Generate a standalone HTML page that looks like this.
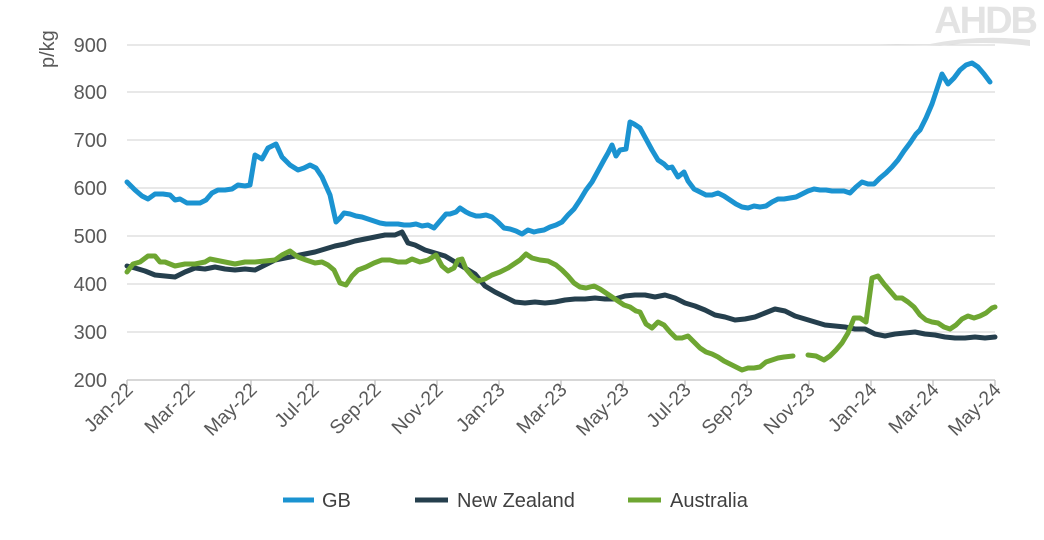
<!DOCTYPE html>
<html><head><meta charset="utf-8"><style>
body{margin:0;background:#fff;}
svg{display:block;font-family:"Liberation Sans",Arial,sans-serif;}
</style></head><body>
<svg width="1044" height="540" viewBox="0 0 1044 540">
<g stroke="#d9d9d9" stroke-width="1.3">
<line x1="127" x2="995" y1="45" y2="45"/><line x1="127" x2="995" y1="92" y2="92"/>
<line x1="127" x2="995" y1="140" y2="140"/><line x1="127" x2="995" y1="188" y2="188"/>
<line x1="127" x2="995" y1="236" y2="236"/><line x1="127" x2="995" y1="284" y2="284"/>
<line x1="127" x2="995" y1="332" y2="332"/>
</g>
<line x1="127" x2="995" y1="380" y2="380" stroke="#bfbfbf" stroke-width="1.3"/>
<g stroke="#bfbfbf" stroke-width="1.3" id="ticks"></g>
<g fill="#595959" font-size="20" text-anchor="end">
<text x="107" y="52">900</text><text x="107" y="99">800</text><text x="107" y="147">700</text>
<text x="107" y="195">600</text><text x="107" y="243">500</text><text x="107" y="291">400</text>
<text x="107" y="339">300</text><text x="107" y="387">200</text>
</g>
<text transform="translate(54,68) rotate(-90)" fill="#595959" font-size="20">p/kg</text>
<g fill="#595959" font-size="19.5" text-anchor="end" id="xl"></g>
<g fill="none" stroke-width="5" stroke-linejoin="round" stroke-linecap="round">
<polyline stroke="#253f4d" points="127,266 135,268 145,271 155,275 165,276 175,277 185,272 195,268 205,269 215,267 225,269 235,270 245,269 255,270 265,265 275,260 285,258 295,256 305,254 315,252 325,249 335,246 345,244 355,241 365,239 375,237 385,235 395,235 402,232 408,243 415,245 425,250 435,253 445,256 455,262 465,268 475,274 485,286 495,292 505,297 515,302 525,303 535,302 545,303 555,302 565,300 575,299 585,299 595,298 605,299 615,299 625,296 635,295 645,295 655,297 665,295 675,298 685,303 695,306 705,310 715,315 725,317 735,320 745,319 755,317 765,313 775,309 785,311 795,316 805,319 815,322 825,325 835,326 845,327 855,329 865,329 875,334 885,336 895,334 905,333 915,332 925,334 935,335 945,337 955,338 965,338 975,337 985,338 995,337"/>
<polyline stroke="#6ea632" points="127,272 133,264 140,262 148,256 155,256 160,262 165,262 175,266 185,264 195,264 205,262 210,259 215,260 225,262 235,264 245,262 255,262 265,261 275,260 282,255 290,251 298,257 306,260 315,263 322,262 328,265 334,270 340,283 346,285 352,276 358,270 366,267 374,263 382,260 390,260 398,262 406,262 412,259 420,262 428,260 436,255 442,266 448,271 454,268 458,260 462,259 466,269 472,276 478,281 485,279 492,275 500,272 508,268 514,264 520,260 526,254 532,258 540,260 548,261 556,265 562,270 568,276 574,283 580,287 586,288 594,286 600,289 606,293 612,297 618,301 624,305 630,307 636,311 640,312 646,324 652,328 658,322 664,325 670,332 676,338 682,338 688,336 694,342 700,348 706,352 712,354 718,357 724,361 730,364 736,367 742,370 748,368 754,368 760,367 766,362 772,360 778,358 784,357 793,356"/>
<polyline stroke="#6ea632" points="808,355 816,356 824,360 830,356 836,350 842,343 848,333 854,318 860,318 866,322 872,278 878,276 884,284 890,291 896,298 902,298 908,302 914,307 920,315 926,320 932,322 938,323 944,327 950,329 956,325 962,319 968,316 974,318 980,316 986,313 992,308 995,307"/>
<polyline stroke="#1b93d1" points="127,182 135,190 142,196 148,199 155,194 163,194 170,195 175,200 180,199 187,203 195,203 200,203 206,200 212,193 218,190 225,190 232,189 238,185 245,186 250,185 255,155 262,159 268,148 276,144 282,157 290,165 298,170 304,168 310,165 316,168 322,177 330,195 336,222 340,218 344,213 350,214 356,216 362,217 368,219 374,221 380,223 386,224 392,224 398,224 404,225 410,225 416,224 422,226 428,225 434,228 440,221 446,214 450,214 456,212 460,208 466,212 470,214 476,216 480,216 486,215 492,217 498,222 504,228 510,229 516,231 522,234 528,230 534,232 538,231 544,230 550,227 556,225 562,222 568,215 574,209 580,200 586,190 592,182 598,171 604,160 608,153 612,145 616,156 620,150 626,149 630,122 634,124 640,128 646,139 652,150 658,160 664,164 668,168 672,167 678,177 684,172 688,181 694,189 700,192 706,195 712,195 718,193 724,196 730,200 736,204 742,207 748,208 754,206 760,207 766,206 772,202 778,199 784,199 790,198 796,197 802,194 808,191 814,189 820,190 826,190 832,191 838,191 844,191 850,193 856,187 862,182 868,184 874,184 880,178 886,173 892,167 898,160 904,151 910,143 916,134 920,130 926,118 932,104 938,86 942,74 948,84 954,78 960,70 966,65 972,63 978,67 984,74 990,82"/>
</g>
<g font-size="20" fill="#404040">
<line x1="283" x2="314" y1="500" y2="500" stroke="#1b93d1" stroke-width="5"/><text x="322" y="507">GB</text>
<line x1="415" x2="448" y1="500" y2="500" stroke="#253f4d" stroke-width="5"/><text x="457" y="507">New Zealand</text>
<line x1="628" x2="661" y1="500" y2="500" stroke="#6ea632" stroke-width="5"/><text x="670" y="507">Australia</text>
</g>
<g fill="#e3e3e3">
<text x="1036" y="33" font-size="38" font-weight="bold" text-anchor="end" letter-spacing="-2">AHDB</text>
<path d="M880,44 L930,44 Q980,34 1030,40 L1030,46 Q980,40 940,46 Z"/>
</g>
<script>
var t=document.getElementById('ticks'),x=document.getElementById('xl');
var L=['Jan-22','Mar-22','May-22','Jul-22','Sep-22','Nov-22','Jan-23','Mar-23','May-23','Jul-23','Sep-23','Nov-23','Jan-24','Mar-24','May-24'];
var ns='http://www.w3.org/2000/svg';
for(var k=0;k<15;k++){var px=127+62*k;
var l=document.createElementNS(ns,'line');l.setAttribute('x1',px);l.setAttribute('x2',px);l.setAttribute('y1',380);l.setAttribute('y2',386);t.appendChild(l);
var s=document.createElementNS(ns,'text');s.setAttribute('transform','translate('+(px+7)+',391) rotate(-45)');s.textContent=L[k];x.appendChild(s);}
</script>
</svg>
</body></html>
